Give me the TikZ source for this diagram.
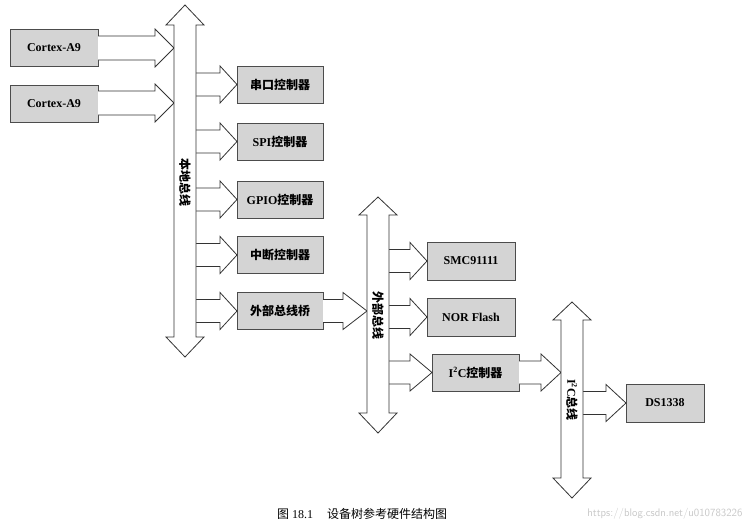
\documentclass[tikz,border=0pt]{standalone}
\usepackage{fontspec}
\setmainfont{Liberation Serif}
\newfontfamily\cjk{Noto Sans CJK SC}
\begin{document}
\begin{tikzpicture}[x=1pt,y=-1pt,
  box/.style={draw=black!70,fill=black!17,line width=0.8pt,minimum height=37pt,inner sep=0pt,font=\fontsize{12}{14}\selectfont\bfseries},
  line/.style={draw=black!80,line width=0.8pt,fill=white},
  buslbl/.style={rotate=-90,font=\fontsize{12}{14}\selectfont\bfseries,inner sep=1pt}]
\useasboundingbox (0,0) rectangle (748,530);
\newcommand\fatarr[5]{\draw[line] (#1,#4-#5) -- (#2,#4-#5) -- (#2,#4-#5-7) -- (#3,#4) -- (#2,#4+#5+7) -- (#2,#4+#5) -- (#1,#4+#5);}
\newcommand\bus[5]{\draw[line] (#1,#4) -- (#1-8,#4) -- ({(#1+#2)/2},#3) -- (#2+8,#4) -- (#2,#4) -- (#2,#5) -- (#2+8,#5) -- ({(#1+#2)/2},#5+20) -- (#1-8,#5) -- (#1,#5) -- cycle;}
% nodes
\node[box,minimum width=88pt] (c1) at (54,47.5) {Cortex-A9};
\node[box,minimum width=88pt] (c2) at (54,103.5) {Cortex-A9};
\node[box,minimum width=86pt] (uart) at (280,84.5) {{\cjk 串口控制器}};
\node[box,minimum width=86pt] (spi) at (280,141.5) {SPI{\cjk 控制器}};
\node[box,minimum width=86pt] (gpio) at (280,199.5) {GPIO{\cjk 控制器}};
\node[box,minimum width=86pt] (intc) at (280,255) {{\cjk 中断控制器}};
\node[box,minimum width=86pt] (bridge) at (280,311) {{\cjk 外部总线桥}};
\node[box,minimum width=88pt,minimum height=38pt] (smc) at (471,261) {SMC91111};
\node[box,minimum width=88pt,minimum height=38pt] (nor) at (471,317) {NOR Flash};
\node[box,minimum width=87pt] (i2cc) at (475.5,372.5) {I\textsuperscript{2}C{\cjk 控制器}};
\node[box,minimum width=78pt,minimum height=38pt] (ds) at (665,403) {DS1338};
% arrows
\fatarr{98}{155}{174}{48}{12}
\fatarr{98}{155}{174}{103}{12}
\foreach \y in {84.5,141.5,199.5,255,311} {\fatarr{196}{220}{237}{\y}{11.5}}
\fatarr{323}{343}{367}{311}{11.5}
\fatarr{389}{410}{427}{261}{11.5}
\fatarr{389}{410}{427}{317}{11.5}
\fatarr{389}{410}{432}{372.5}{11.5}
\fatarr{519}{541}{561}{372.5}{11.5}
\fatarr{583}{606}{626}{403}{11.5}
% buses
\bus{174}{196}{5}{25}{337}
\bus{367}{389}{197}{215}{413}
\bus{561}{583}{302}{320}{478}
\node[buslbl] (lb) at (185,182) {{\cjk 本地总线}};
\node[buslbl] (eb) at (378,315) {{\cjk 外部总线}};
\node[buslbl] (ib) at (572,400) {I\textsuperscript{2}C{\cjk 总线}};
\node[font=\fontsize{12}{14}\selectfont] (cap) at (362,514) {{\cjk 图} 18.1\hspace{14pt}{\cjk 设备树参考硬件结构图}};
\node[font=\fontsize{11}{13}\selectfont\sffamily,text=black!22,anchor=east] (wm) at (746,514) {https://blog.csdn.net/u010783226};
\end{tikzpicture}
\end{document}
